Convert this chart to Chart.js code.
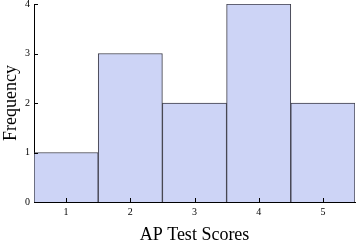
<!DOCTYPE html>
<html>
<head>
<meta charset="utf-8">
<script src="https://cdn.jsdelivr.net/npm/chart.js@4"></script>
<style>
  html, body { margin: 0; padding: 0; background: #fff; }
  #wrap { width: 356px; height: 241px; }
</style>
</head>
<body>
<div id="wrap"><canvas id="ctx"></canvas></div>
<script>
const scores = ['1', '2', '3', '4', '5']
const frequency = [1, 3, 2, 4, 2]
const yTicks = [0, 1, 2, 3, 4]

const serif = '"Liberation Serif", "DejaVu Serif", serif'
const ink = '#3c3c48'

// small ticks pointing into the plot, like the original
const innerTicks = {
  id: 'innerTicks',
  afterDatasetsDraw: (chart) => {
    const {ctx} = chart
    const x = chart.scales.x
    const y = chart.scales.y
    ctx.save()
    ctx.strokeStyle = '#000'
    ctx.lineWidth = 1
    ctx.beginPath()
    yTicks.forEach(v => {
      const py = Math.round(y.getPixelForValue(v)) + 0.5
      ctx.moveTo(x.left, py)
      ctx.lineTo(x.left + 4, py)
    })
    scores.forEach((c, i) => {
      const px = Math.round(x.getPixelForValue(i)) + 0.5
      ctx.moveTo(px, y.bottom)
      ctx.lineTo(px, y.bottom - 4)
    })
    ctx.stroke()
    ctx.restore()
  }
}

const chart = new Chart(document.getElementById('ctx'), {
  type: 'bar',
  data: {
    labels: scores,
    datasets: [{
      data: frequency,
      backgroundColor: '#cdd4f6',
      borderColor: ink,
      borderWidth: 1,
      barPercentage: 1,
      categoryPercentage: 1,
      borderSkipped: 'bottom'
    }]
  },
  options: {
    responsive: true,
    maintainAspectRatio: false,
    animation: false,
    layout: { padding: { top: 4, right: 1, left: 0, bottom: 0 } },
    plugins: { legend: { display: false }, tooltip: { enabled: false } },
    scales: {
      x: {
        offset: true,
        grid: { display: false, drawTicks: false },
        border: { display: true, color: '#000', width: 1 },
        ticks: { color: '#000', font: { family: serif, size: 10 }, padding: 4 },
        title: { display: true, text: 'AP Test Scores', color: '#000', font: { family: serif, size: 18, lineHeight: 1 }, padding: { top: 0, bottom: -3 } },
        afterFit: (s) => { s.height = 39 }
      },
      y: {
        min: 0,
        max: 4,
        ticks: { stepSize: 1, color: '#000', font: { family: serif, size: 10 }, padding: 4 },
        grid: { display: false, drawTicks: false },
        border: { display: true, color: '#000', width: 1 },
        title: { display: true, text: 'Frequency', color: '#000', font: { family: serif, size: 18 }, padding: 0 },
        afterFit: (s) => { s.width = 34; s.paddingTop = 0 }
      }
    }
  },
  plugins: [innerTicks]
})
</script>
</body>
</html>
